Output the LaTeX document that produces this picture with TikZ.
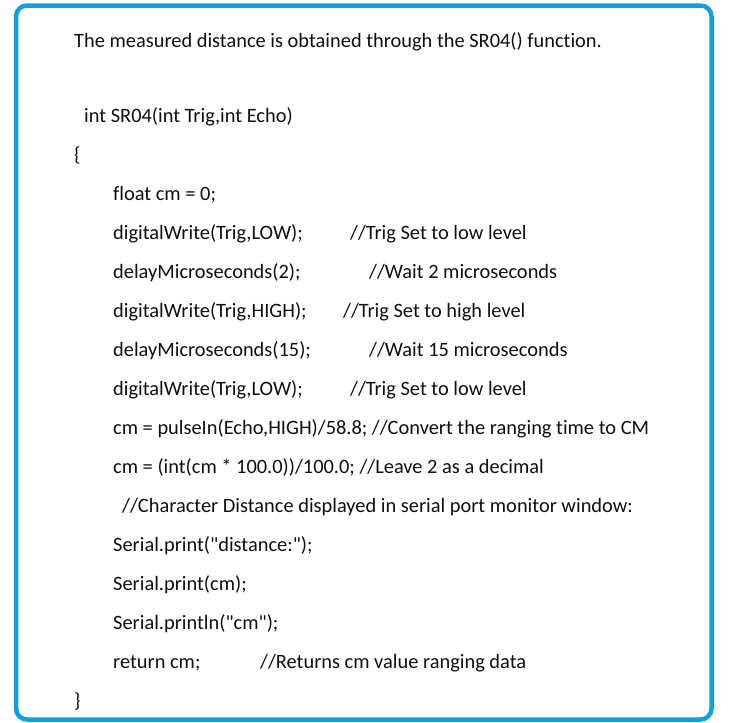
\documentclass[tikz,border=0pt]{standalone}
\usepackage{fontspec}
\newfontfamily\codefont{Carlito}[RawFeature={-liga;-clig;-dlig;-calt}]
\usepackage{xcolor}
\usepackage{tikz}
\usetikzlibrary{calc}

\definecolor{framecol}{RGB}{16,160,226}
\definecolor{textcol}{RGB}{15,15,15}

\begin{document}
\begin{tikzpicture}[x=1pt,y=-1pt,
    codeline/.style={anchor=base west,inner sep=0pt,text=textcol,font=\codefont\fontsize{20.4}{24}\selectfont}]
            \useasboundingbox (0,0) rectangle (729,723);
            \draw[line width=4.5pt,draw=framecol,rounded corners=11pt] (16,5.5) rectangle (711.5,719.5);

            \node[codeline] (title) at (74,47) {The measured distance is obtained through the SR04() function.};
            \node[codeline] (sig) at (84,122) {int SR04(int Trig,int Echo)};
            \node[codeline] (open) at (74,161) {\{};
            \node[codeline] (l1) at (113,200) {float cm = 0;};
            \node[codeline] (l2) at (113,239) {digitalWrite(Trig,LOW);};
            \node[codeline] (c2) at (350,239) {//Trig Set to low level};
            \node[codeline] (l3) at (113,278) {delayMicroseconds(2);};
            \node[codeline] (c3) at (369,278) {//Wait 2 microseconds};
            \node[codeline] (l4) at (113,317) {digitalWrite(Trig,HIGH);};
            \node[codeline] (c4) at (343,317) {//Trig Set to high level};
            \node[codeline] (l5) at (113,356) {delayMicroseconds(15);};
            \node[codeline] (c5) at (369,356) {//Wait 15 microseconds};
            \node[codeline] (l6) at (113,395) {digitalWrite(Trig,LOW);};
            \node[codeline] (c6) at (350,395) {//Trig Set to low level};
            \node[codeline] (l7) at (113,434) {cm = pulseIn(Echo,HIGH)/58.8; //Convert the ranging time to CM};
            \node[codeline] (l8) at (113,473) {cm = (int(cm * 100.0))/100.0; //Leave 2 as a decimal};
            \node[codeline] (l9) at (122,512) {//Character Distance displayed in serial port monitor window:};
            \node[codeline] (l10) at (113,551) {Serial.print("distance:");};
            \node[codeline] (l11) at (113,590) {Serial.print(cm);};
            \node[codeline] (l12) at (113,629) {Serial.println("cm");};
            \node[codeline] (l13) at (113,668) {return cm;};
            \node[codeline] (c13) at (260,668) {//Returns cm value ranging data};
            \node[codeline] (close) at (74,707) {\}};
        \end{tikzpicture}
\end{document}
